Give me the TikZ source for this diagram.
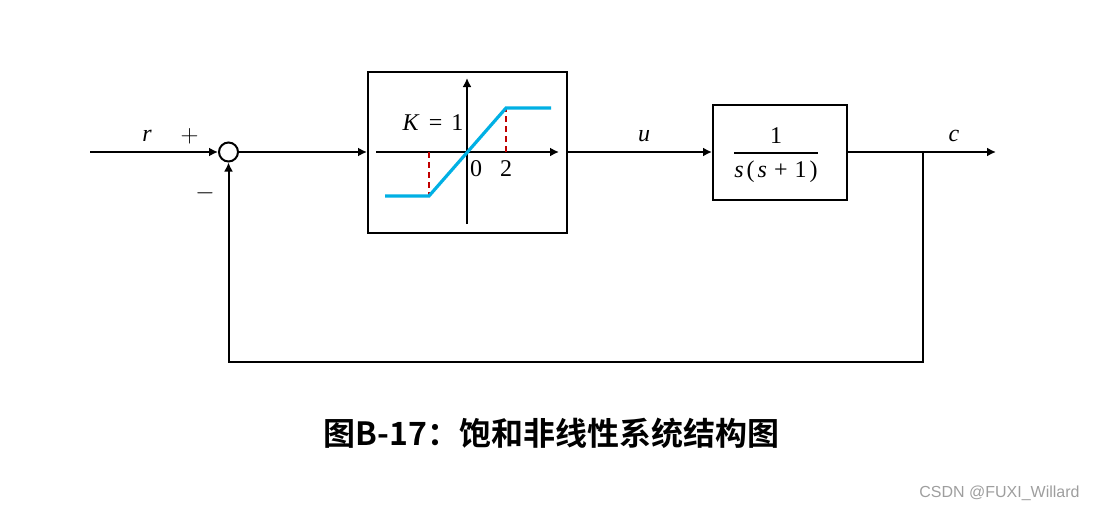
\documentclass[tikz,border=0pt]{standalone}
\usepackage{fontspec}
\setmainfont{Liberation Sans}
\newfontfamily\cjk{Noto Sans CJK SC}[BoldFont={Noto Sans CJK SC Bold}]
\newfontfamily\mathish{Liberation Serif}
\usetikzlibrary{arrows.meta}
\definecolor{curveblue}{RGB}{0,176,228}
\definecolor{dashred}{RGB}{192,0,0}
\tikzset{
  x=1pt,y=-1pt,
  sig/.style={draw=black,line width=2pt,line join=miter,-{Latex[length=9pt,width=9pt]}},
  plainline/.style={draw=black,line width=2pt},
  blockbox/.style={draw=black,line width=2pt,fill=white,inner sep=0pt,minimum width=#1},
  sumnode/.style={circle,draw=black,line width=2pt,fill=white,minimum size=19pt,inner sep=0pt},
  axisline/.style={draw=black,line width=2pt,-{Latex[length=9pt,width=9pt]}},
  curve/.style={draw=curveblue,line width=3.2pt},
  reddash/.style={draw=dashred,line width=1.6pt,dash pattern=on 6pt off 4pt},
  mathlabel/.style={inner sep=0pt,font=\mathish\fontsize{24}{28}\selectfont},
  signlabel/.style={inner sep=0pt,font=\fontsize{24}{26}\selectfont},
}
\begin{document}
\begin{tikzpicture}
\useasboundingbox (0,0) rectangle (1095,511);
\coordinate (in) at (90,152);
\node[sumnode] (sum) at (228.5,152) {};
\node[blockbox=199pt,minimum height=161pt] (sat) at (467.5,152.5) {};
\node[blockbox=134pt,minimum height=95pt] (plant) at (780,152.5) {};
\coordinate (out) at (996,152);
\coordinate (tap) at (923,152);
\coordinate (bot) at (923,362);
\coordinate (botl) at (228.5,362);
\draw[sig] (in) -- (sum.west);
\draw[sig] (sum.east) -- (sat.west |- sum.east);
\draw[sig] (sat.east |- sum.east) -- (plant.west |- sum.east);
\draw[sig] (plant.east |- sum.east) -- (out);
\draw[sig] (tap) -- (bot) -- (botl) -- (sum.south);
% inner graph
\coordinate (xl) at (376,152);
\coordinate (xr) at (559,152);
\coordinate (yb) at (467,224);
\coordinate (yt) at (467,78);
\draw[axisline] (xl) -- (xr);
\draw[axisline] (yb) -- (yt);
\coordinate (c1) at (385,196);
\coordinate (c2) at (429,196);
\coordinate (c3) at (506,108);
\coordinate (c4) at (551,108);
\coordinate (f1) at (429,152);
\coordinate (f2) at (506,152);
\draw[reddash] (f1) -- (c2);
\draw[reddash] (f2) -- (c3);
\draw[curve,line join=miter] (c1) -- (c2) -- (c3) -- (c4);
\node[mathlabel] (k) at (433,123) {\textit{K}\hspace{9pt}=\hspace{9pt}1};
\node[mathlabel] (zero) at (476,169) {0};
\node[mathlabel] (two) at (506,169) {2};
\node[mathlabel] (r) at (147,136) {\textit{r}};
\node[signlabel] (plus) at (189.5,136) {$+$};
\node[signlabel] (minus) at (205,193) {$-$};
\node[mathlabel] (u) at (644,136) {\textit{u}};
\node[mathlabel] (c) at (954,136) {\textit{c}};
\node[mathlabel] (num) at (776,136) {1};
\node[mathlabel] (den) at (776,172) {\textit{s}\hspace{3pt}(\hspace{3pt}\textit{s}\hspace{7pt}+\hspace{7pt}1\hspace{3pt})};
\draw[plainline] (den.west |- 0,153) -- (den.east |- 0,153);
\node[inner sep=0pt,font=\cjk\bfseries\fontsize{32}{36}\selectfont] (title) at (551.5,433.5) {图B-17：饱和非线性系统结构图};
\node[inner sep=0pt,text=black!38,font=\fontsize{16}{19}\selectfont] (wm) at (999.5,493.5) {CSDN @FUXI\_Willard};
\end{tikzpicture}
\end{document}
